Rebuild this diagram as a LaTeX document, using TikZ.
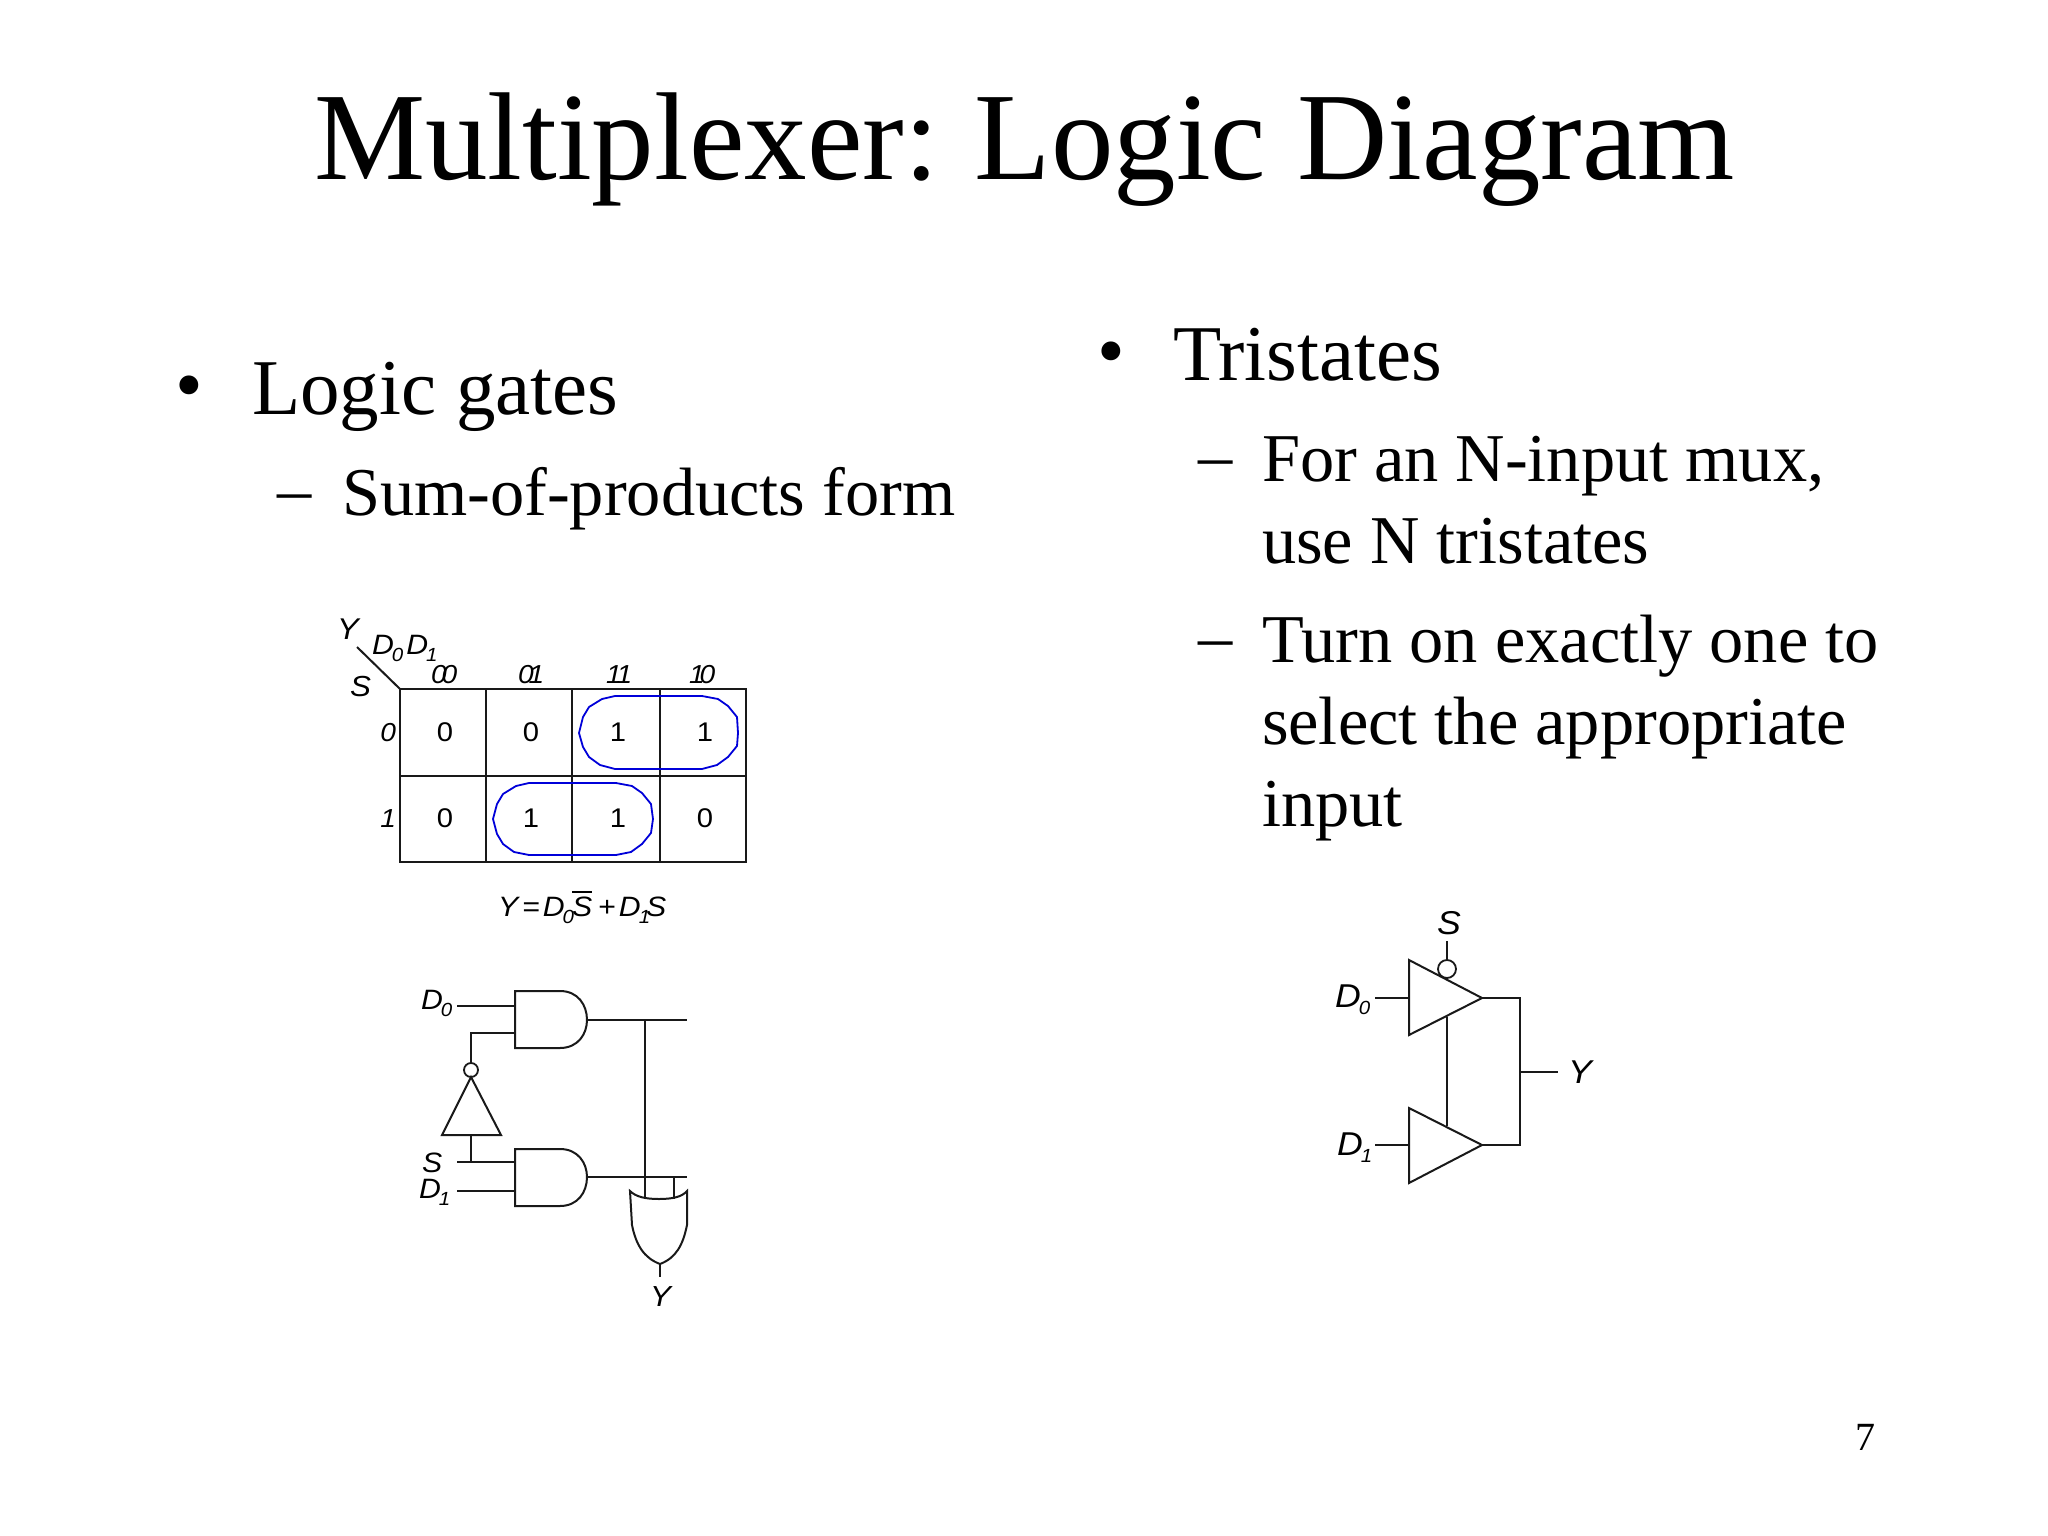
\documentclass[tikz,border=0pt]{standalone}
\usepackage{fontspec}
\setmainfont{Liberation Serif}
\newfontfamily\arialf[FakeStretch=1.08]{Liberation Sans}
\newcommand{\fsz}[1]{\fontsize{#1}{#1}\selectfont}
\newcommand{\Dsb}[1]{D\kern-2pt\raisebox{-7pt}{\fsz{19}#1}}
\tikzset{
  txt/.style={anchor=base west,inner sep=0pt,outer sep=0pt},
  ttl/.style={txt,font=\fsz{125}},
  lvla/.style={txt,font=\fsz{79}},
  lvlb/.style={txt,font=\fsz{68.4}},
  sig/.style={txt,font=\arialf\itshape\fsz{28}},
  sigb/.style={txt,font=\arialf\itshape\fsz{33}},
  sigsmall/.style={txt,font=\arialf\itshape\fsz{26}},
  cell/.style={anchor=base,inner sep=0pt,outer sep=0pt,font=\arialf\fsz{27}},
  wire/.style={line width=2pt,line join=miter,black!90},
  kgrid/.style={line width=2pt,black!90},
  loopc/.style={line width=1.8pt,blue!85!black,line join=round},
  bubble/.style={circle,draw,line width=1.8pt,black!90,inner sep=0pt,outer sep=0pt},
}
\begin{document}
\begin{tikzpicture}[x=1pt,y=-1pt]
\useasboundingbox[fill=white] (0,0) rectangle (2048,1536);
% text
\node[ttl] (title) at (314,179) {Multiplexer:\kern-6pt{} Logic Diagram};
\node[lvla] (b1) at (175,411) {•};
\node[lvla] (t1) at (252,414) {Logic gates};
\node[lvlb] (d1) at (277,512) {–};
\node[lvlb] (t1a) at (342,515) {Sum-of-products form};
\node[lvla] (b2) at (1097,377) {•};
\node[lvla] (t2) at (1173,380) {Tristates};
\node[lvlb] (d2) at (1198,478) {–};
\node[lvlb] (t2a) at (1262,481) {For an N-input mux,};
\node[lvlb] (t2b) at (1262,563) {use N tristates};
\node[lvlb] (d3) at (1198,659) {–};
\node[lvlb] (t2c) at (1262,662) {Turn on exactly one to};
\node[lvlb] (t2d) at (1262,744) {select the appropriate};
\node[lvlb] (t2e) at (1262,826) {input};
\node[txt,font=\fsz{40}] (pg) at (1855,1450) {7};
% K-map
\coordinate (k0) at (400,689);
\coordinate (k1) at (746,862);
\draw[kgrid] (k0) rectangle (k1);
\coordinate (va) at (486,689); \coordinate (vab) at (486,862);
\coordinate (vb) at (572,689); \coordinate (vbb) at (572,862);
\coordinate (vc) at (660,689); \coordinate (vcb) at (660,862);
\coordinate (hl) at (400,776); \coordinate (hr) at (746,776);
\draw[kgrid] (va)--(vab) (vb)--(vbb) (vc)--(vcb) (hl)--(hr);
\coordinate (diag) at (357,647);
\draw[kgrid] (diag)--(k0);
\node[sig,font=\arialf\itshape\fsz{30}] (ky) at (337,639) {Y};
\node[sig] (kd) at (372,654) {\Dsb{0}\kern3pt\Dsb{1}};
\node[sig,font=\arialf\itshape\fsz{29}] (ks) at (350,696) {S};
\node[sigsmall] (c00) at (431,683) {0\kern-5pt 0};
\node[sigsmall] (c01) at (518,683) {0\kern-5pt 1};
\node[sigsmall] (c11) at (606,683) {1\kern-5pt 1};
\node[sigsmall] (c10) at (689,683) {1\kern-5pt 0};
\node[sigsmall,anchor=base east] (r0) at (396,741) {0};
\node[sigsmall,anchor=base east] (r1) at (396,827) {1};
\node[cell] (a) at (445,741) {0};
\node[cell] (b) at (531,741) {0};
\node[cell] (c) at (618,741) {1};
\node[cell] (e) at (705,741) {1};
\node[cell] (f) at (445,827) {0};
\node[cell] (g) at (531,827) {1};
\node[cell] (h) at (618,827) {1};
\node[cell] (i) at (705,827) {0};
\draw[loopc] (615,696)--(702,696)--(718,699)--(728,706)--(737,717)--(738,733)--(737,746)--(728,757)--(717,765)--(702,769)--(615,769)--(600,765)--(589,757)--(583,747)--(579,733)--(583,717)--(589,707)--(602,699)--cycle;
\draw[loopc] (529,783)--(616,783)--(632,786)--(642,793)--(651,804)--(653,819)--(651,833)--(642,844)--(631,852)--(616,855)--(529,855)--(514,852)--(503,844)--(497,834)--(493,819)--(497,804)--(503,794)--(516,786)--cycle;
\node[sig] (eq) at (498,916) {Y\kern4pt=\kern3pt\Dsb{0}\kern-2pt\rlap{\raisebox{23pt}{\rule{20pt}{1.7pt}}}S\kern6pt{\upshape+}\kern3pt\Dsb{1}\kern-4pt S};
% AND gates
\coordinate (a1tl) at (515,991);
\coordinate (a1bl) at (515,1048);
\coordinate (a1o) at (587,1020);
\draw[wire] (a1tl)--(560,991) .. controls (578,991) and (587,1005) .. (a1o) .. controls (587,1034) and (578,1048) .. (560,1048)--(a1bl)--cycle;
\coordinate (a2tl) at (515,1149);
\coordinate (a2bl) at (515,1206);
\coordinate (a2o) at (587,1177);
\draw[wire] (a2tl)--(560,1149) .. controls (578,1149) and (587,1163) .. (a2o) .. controls (587,1192) and (578,1206) .. (560,1206)--(a2bl)--cycle;
\coordinate (iD0) at (457,1006); \coordinate (a1i1) at (515,1006);
\draw[wire] (iD0)--(a1i1);
\coordinate (a1i2) at (515,1033); \coordinate (nott) at (471,1063);
\draw[wire] (a1i2)-|(nott);
\node[bubble,minimum size=14pt] (nb) at (471,1070) {};
\coordinate (na) at (471,1077); \coordinate (nl) at (442,1135); \coordinate (nr) at (501,1135);
\draw[wire] (na)--(nl)--(nr)--cycle;
\coordinate (nin) at (471,1135); \coordinate (sj) at (471,1162);
\draw[wire] (nin)--(sj);
\coordinate (iS) at (457,1162); \coordinate (a2i1) at (515,1162);
\draw[wire] (iS)--(a2i1);
\coordinate (iD1) at (457,1191); \coordinate (a2i2) at (515,1191);
\draw[wire] (iD1)--(a2i2);
\coordinate (o1e) at (687,1020); \coordinate (o2e) at (687,1177);
\draw[wire] (a1o)--(o1e) (a2o)--(o2e);
\coordinate (j1) at (645,1020); \coordinate (or1) at (645,1199);
\coordinate (j2) at (674,1177); \coordinate (or2) at (674,1199);
\draw[wire] (j1)--(or1) (j2)--(or2);
% OR gate
\coordinate (ortl) at (630,1191); \coordinate (ortr) at (687,1191); \coordinate (ortip) at (660,1264);
\draw[wire] (ortl) .. controls (636,1197) and (646,1199) .. (659,1199) .. controls (672,1199) and (682,1197) .. (ortr)
  -- (687,1225) .. controls (683,1245) and (676,1258) .. (ortip) .. controls (644,1258) and (636,1245) .. (632,1225) -- cycle;
\coordinate (oro) at (660,1277);
\draw[wire] (ortip)--(oro);
\node[sig] (lD0) at (421,1009) {\Dsb{0}};
\node[sig] (lS) at (422,1172) {S};
\node[sig] (lD1) at (419,1198) {\Dsb{1}};
\node[sig,font=\arialf\itshape\fsz{29}] (lY) at (650,1306) {Y};
% tristates
\coordinate (t1t) at (1409,960); \coordinate (t1b) at (1409,1035); \coordinate (t1o) at (1482,998);
\coordinate (t2t) at (1409,1108); \coordinate (t2bb) at (1409,1183); \coordinate (t2o) at (1482,1145);
\draw[wire] (t1t)--(t1o)--(t1b)--cycle;
\draw[wire] (t2t)--(t2o)--(t2bb)--cycle;
\coordinate (wD0) at (1375,998); \coordinate (t1i) at (1409,998);
\coordinate (wD1) at (1375,1145); \coordinate (t2i) at (1409,1145);
\draw[wire] (wD0)--(t1i) (wD1)--(t2i);
\coordinate (busT) at (1520,998); \coordinate (busB) at (1520,1145);
\draw[wire] (t1o)--(busT)--(busB)--(t2o);
\coordinate (busM) at (1520,1072); \coordinate (wY) at (1558,1072);
\draw[wire] (busM)--(wY);
\coordinate (en1) at (1447,1017); \coordinate (en2) at (1447,1126);
\draw[wire] (en1)--(en2);
\node[bubble,minimum size=18pt] (tb) at (1447,969) {};
\coordinate (wS) at (1447,941);
\draw[wire] (wS)--(tb.north);
\node[sigb] (tS) at (1437,934) {S};
\node[sigb] (tD0) at (1335,1007) {\Dsb{0}};
\node[sigb] (tD1) at (1337,1155) {\Dsb{1}};
\node[sigb] (tY) at (1568,1083) {Y};
\end{tikzpicture}
\end{document}
